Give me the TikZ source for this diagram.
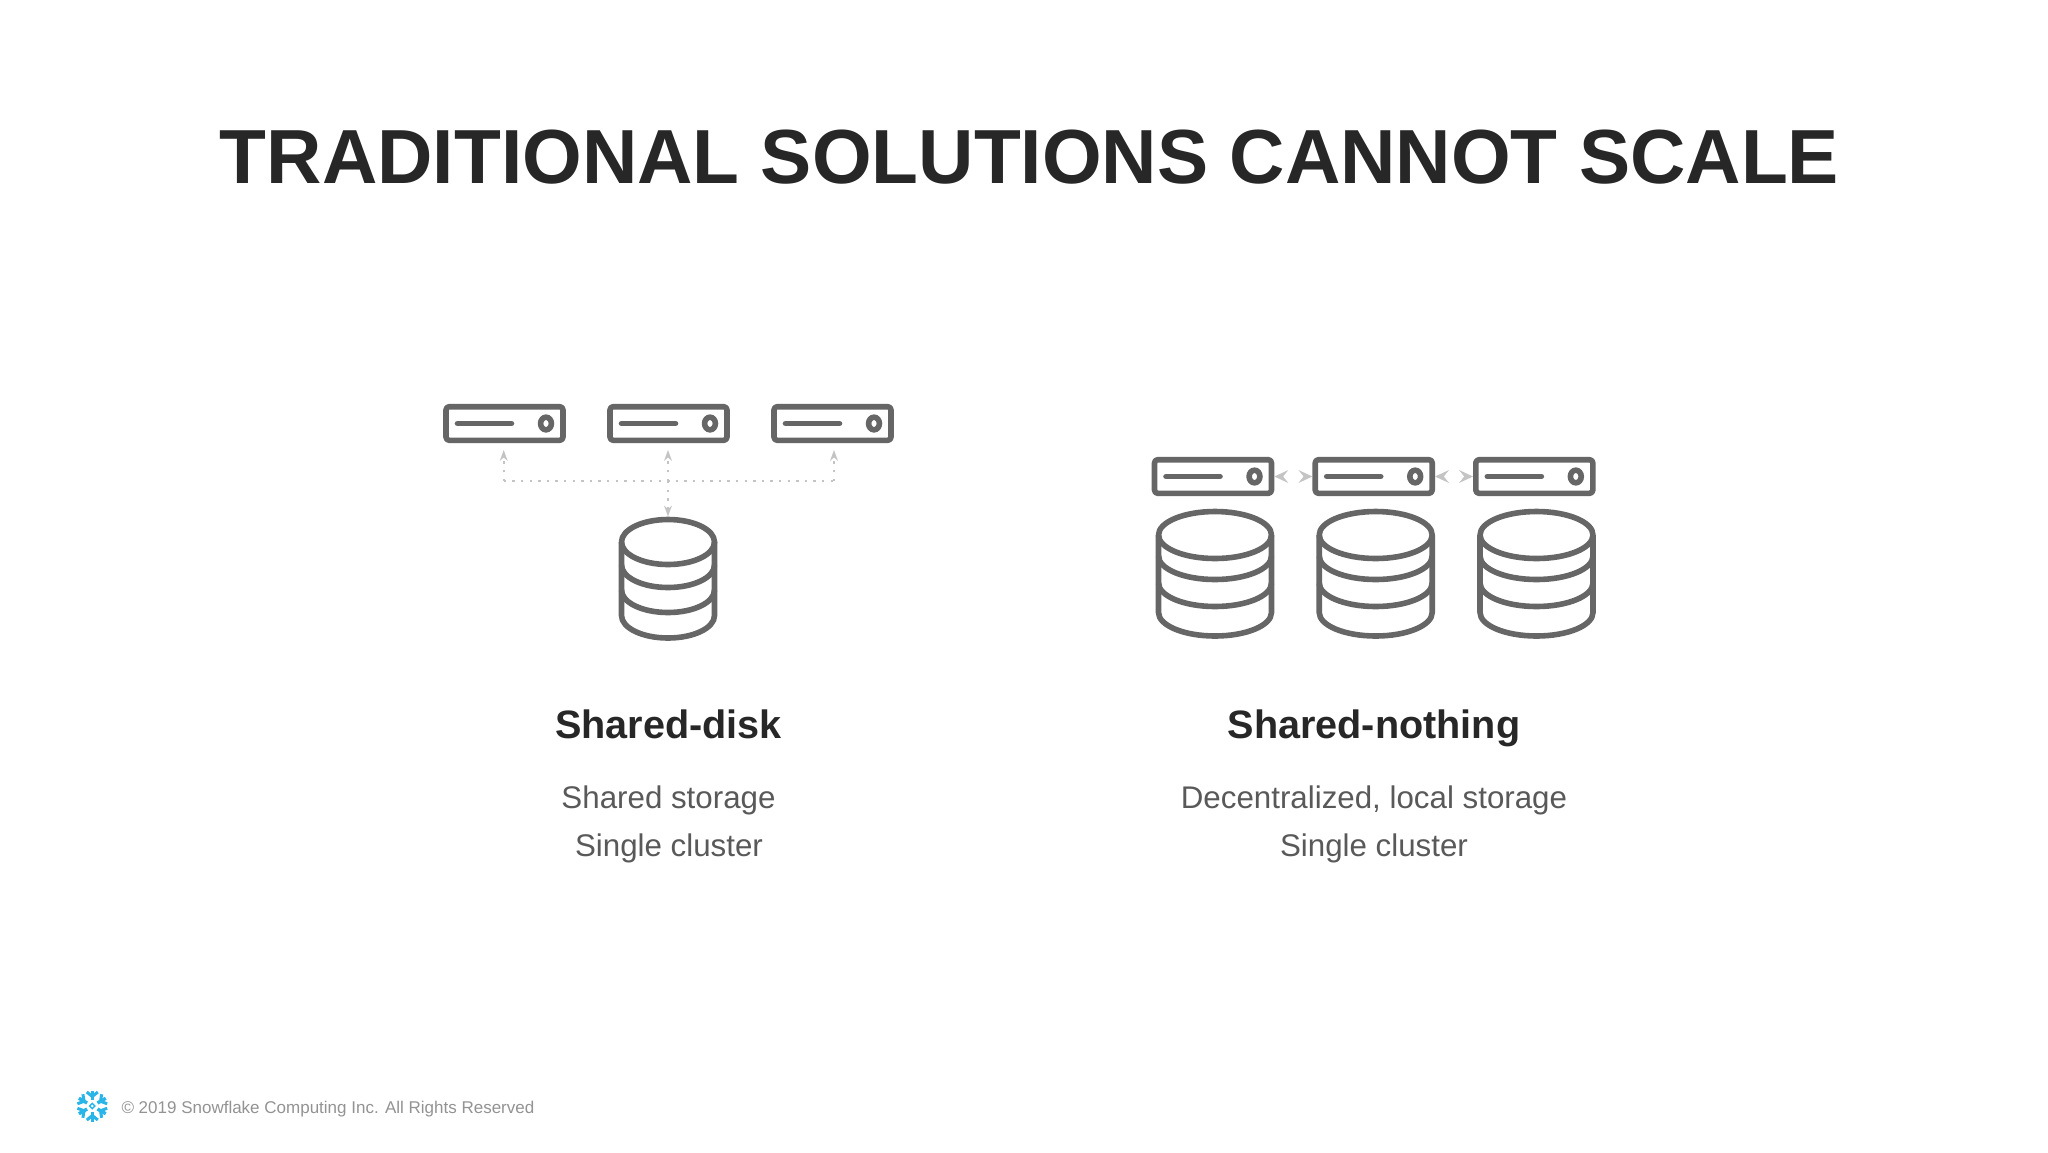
\documentclass[tikz,border=0pt]{standalone}
\usepackage{fontspec}
\setmainfont{Liberation Sans}
\usetikzlibrary{arrows.meta,calc}
\definecolor{ink}{HTML}{272727}
\definecolor{subt}{HTML}{595959}
\definecolor{foot}{HTML}{939393}
\definecolor{icon}{HTML}{666666}
\definecolor{link}{HTML}{C4C4C4}
\definecolor{flake}{HTML}{29B5E8}
\tikzset{
  x=0.5pt,y=-0.5pt,
  every node/.style={inner sep=0pt,outer sep=0pt},
  titletext/.style={anchor=base,font=\fontsize{38.35}{46}\selectfont\bfseries,text=ink},
  headtext/.style={anchor=base,font=\fontsize{19.8}{24}\selectfont\bfseries,text=ink},
  subtext/.style={anchor=base,font=\fontsize{15.65}{19}\selectfont,text=subt},
  foottext/.style={anchor=base west,font=\fontsize{8.5}{11}\selectfont,text=foot},
  iconline/.style={draw=icon,line width=2.8pt,line join=round},
  serverbox/.style={iconline,rounded corners=1.6pt,minimum width=58.5pt,minimum height=16.8pt,outer sep=1.4pt},
  dotlink/.style={draw=link,line width=1.2pt,dash pattern=on 1.2pt off 3.1pt,
    >={Stealth[length=5.5pt,width=4pt,inset=1.8pt,fill=link,color=link,line width=0pt]}},
  peerlink/.style={draw=link,line width=1.4pt,dash pattern=on 1.4pt off 30pt,dash phase=-17.3pt,
    >={Stealth[length=7pt,width=6.5pt,inset=2.6pt,fill=link,color=link,line width=0pt]}},
}
\newcommand{\serverdetail}[1]{%
  \draw[icon,line width=2.8pt,line cap=round] ($(#1)+(-47,0)$) -- ($(#1)+(7,0)$);
  \draw[icon,line width=2.8pt] ($(#1)+(41.5,0)$) ellipse [x radius=5.4,y radius=6.3];
}
\newcommand{\database}[6]{%
  \begin{scope}[iconline]
    \draw (#1,#3) ellipse [x radius=#2,y radius=#4];
    \draw ({#1-#2},#3) -- ({#1-#2},#6) arc [start angle=180,end angle=0,x radius=#2,y radius=#4] -- ({#1+#2},#3);
    \foreach \dy in {#5} {
      \draw ({#1-#2},{#3+\dy}) arc [start angle=180,end angle=0,x radius=#2,y radius=#4];
    }
  \end{scope}
}
\begin{document}
\begin{tikzpicture}
\useasboundingbox (0,0) rectangle (2048,1152);
\fill[white] (0,0) rectangle (2048,1152);
\node[titletext] (title) at (1029.5,183.5) {TRADITIONAL SOLUTIONS CANNOT SCALE};

% Shared-disk
\foreach \n/\cx in {s1/504.5,s2/668.5,s3/832.5}{
  \node[serverbox] (\n) at (\cx,423.5) {};
  \serverdetail{\n}
}
\database{668}{46.5}{542}{22.5}{23,48}{615.5}
\coordinate (disk) at (668,516.5);
\coordinate (junction) at (668,481);
\coordinate (t1) at (503.7,450);
\coordinate (t2) at (668,450);
\coordinate (t3) at (834,450);
\draw[dotlink] (t1 |- junction) -- (t3 |- junction);
\draw[dotlink,->] (t1 |- junction) -- (t1);
\draw[dotlink,->] (junction) -- (t2);
\draw[dotlink,->] (t3 |- junction) -- (t3);
\draw[dotlink,->] (junction) -- (disk);

% Shared-nothing
\foreach \n/\cx in {n1/1213,n2/1373.7,n3/1534.3}{
  \node[serverbox] (\n) at (\cx,476.5) {};
  \serverdetail{\n}
}
\database{1215}{56.5}{535}{23.5}{21,48}{612.5}
\database{1375.7}{56.5}{535}{23.5}{21,48}{612.5}
\database{1536.5}{56.5}{535}{23.5}{21,48}{612.5}
\draw[peerlink,<->] (n1.east) -- (n2.west);
\draw[peerlink,<->] (n2.east) -- (n3.west);

% Captions
\node[headtext] (h1) at (668.5,738.5) {Shared-disk};
\node[subtext] (a1) at (668.5,808) {Shared storage};
\node[subtext] (a2) at (669,856) {Single cluster};
\node[headtext] (h2) at (1374,738.5) {Shared-nothing};
\node[subtext] (b1) at (1374,808) {Decentralized, local storage};
\node[subtext] (b2) at (1374,856) {Single cluster};

% Footer
\begin{scope}[shift={(92.3,1106)}]
  \foreach \a in {30,90,150,210,270,330}{
    \begin{scope}[rotate=\a]
      \draw[flake,line width=1.7pt,line cap=butt] (6,0) -- (15.5,0);
      \draw[flake,line width=1.5pt,line cap=butt] (14,-5.5) -- (9.5,0) -- (14,5.5);
    \end{scope}
  }
  \draw[flake,line width=0.7pt] (0,-2.6) -- (2.6,0) -- (0,2.6) -- (-2.6,0) -- cycle;
\end{scope}
\node[foottext] (foot) at (121.5,1113.5) {© 2019 Snowflake Computing Inc. All Rights Reserved};
\end{tikzpicture}
\end{document}
